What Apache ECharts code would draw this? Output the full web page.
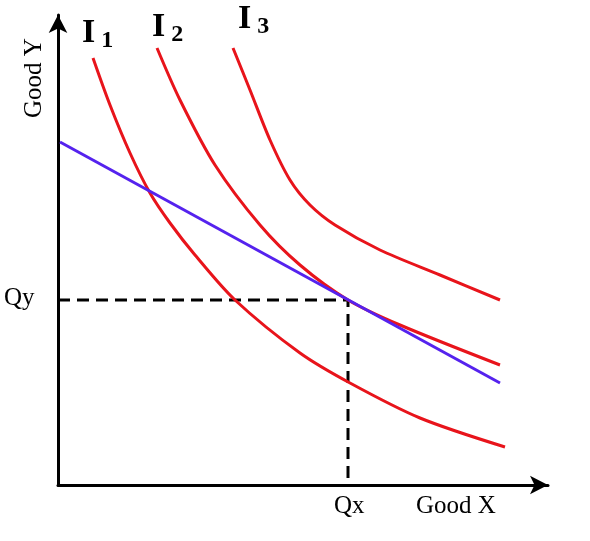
<!DOCTYPE html>
<html lang="en">
<head>
  <meta charset="UTF-8">
  <script src="https://cdn.jsdelivr.net/npm/echarts@6/dist/echarts.min.js"></script>
  <style>
    body, html { margin: 0; padding: 0; width: 100%; height: 100%; background: #fff; overflow: hidden; }
    #main { width: 590px; height: 541px; }
  </style>
</head>
<body>
  <div id="main"></div>
  <script type="text/javascript">
    // curve points in axis units
    var curveI1 = [[35, 427], [52, 380], [72, 332], [92, 292], [112, 262], [137, 230], [177, 185], [242, 132], [292, 102], [362, 67], [447, 38]];
    var curveI2 = [[99, 437], [122, 385], [157, 320], [202, 260], [242, 220], [290, 185], [342, 160], [442, 120]];
    var curveI3 = [[175, 437], [192, 395], [212, 345], [232, 305], [252, 280], [277, 260], [322, 235], [382, 210], [442, 185]];
    var budget = [[2, 343], [442, 102]];
    var optimum = [290, 185];

    var serif = '"Liberation Serif", "DejaVu Serif", serif';
    var myChart = echarts.init(document.getElementById('main'));

    function curve(data) {
      return {
        type: 'line', data: data, smooth: 0.3, symbol: 'none',
        lineStyle: { color: '#e8141b', width: 3 }, z: 3
      };
    }

    function indLabel(n, left, top) {
      return {
        type: 'text', left: left, top: top,
        style: {
          text: '{b|I}{s| ' + n + '}',
          rich: { b: { font: 'bold 34px ' + serif }, s: { font: 'bold 24px ' + serif, padding: [16, 0, 0, 0] } }
        }
      };
    }

    var option = {
      animation: false,
      grid: { left: 58, right: 42, top: 15, bottom: 56 },
      xAxis: {
        type: 'value', min: 0, max: 490,
        axisLine: { lineStyle: { color: '#000', width: 3 }, symbol: ['none', 'arrow'], symbolSize: [14, 18] },
        axisTick: { show: false }, axisLabel: { show: false }, splitLine: { show: false }
      },
      yAxis: {
        type: 'value', min: 0, max: 470,
        axisLine: { lineStyle: { color: '#000', width: 3 }, symbol: ['none', 'arrow'], symbolSize: [14, 18] },
        axisTick: { show: false }, axisLabel: { show: false }, splitLine: { show: false }
      },
      series: [
        {
          type: 'line', data: [[0, optimum[1]], optimum, [optimum[0], 0]], symbol: 'none',
          lineStyle: { color: '#000', width: 3, type: [12, 7] }, z: 1
        },
        curve(curveI1), curve(curveI2), curve(curveI3),
        {
          type: 'line', data: budget, symbol: 'none',
          lineStyle: { color: '#5522ee', width: 3 }, z: 4
        }
      ],
      graphic: [
        indLabel(1, 82, 16),
        indLabel(2, 152, 10),
        indLabel(3, 238, 2),
        { type: 'text', x: 22, y: 118, rotation: Math.PI / 2, style: { text: 'Good Y', font: '25px ' + serif, fill: '#000' } },
        { type: 'text', left: 416, top: 494, style: { text: 'Good X', font: '25px ' + serif, fill: '#000' } },
        { type: 'text', left: 334, top: 494, style: { text: 'Qx', font: '25px ' + serif, fill: '#000' } },
        { type: 'text', left: 4, top: 286, style: { text: 'Qy', font: '25px ' + serif, fill: '#000' } }
      ]
    };
    myChart.setOption(option);
  </script>
</body>
</html>
